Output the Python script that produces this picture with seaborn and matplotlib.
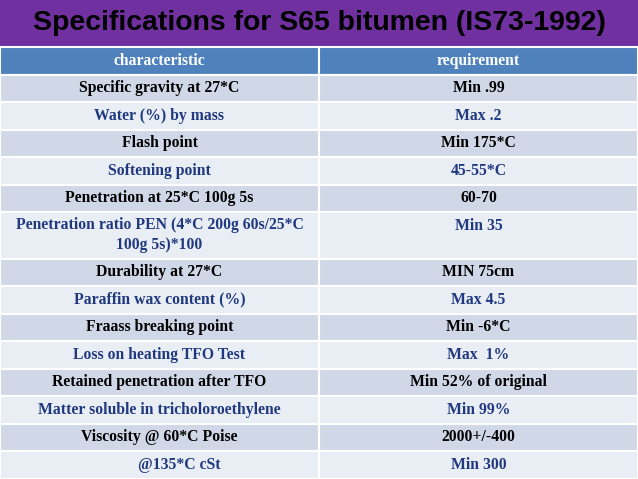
import matplotlib.pyplot as plt
import seaborn as sns
from matplotlib.patches import Rectangle

sns.set_theme(style="white")

TITLE = "Specifications for S65 bitumen (IS73-1992)"
HEADERS = ["characteristic", "requirement"]
characteristics = [
    "Specific gravity at 27*C",
    "Water (%) by mass",
    "Flash point",
    "Softening point",
    "Penetration at 25*C 100g 5s",
    "Penetration ratio PEN (4*C 200g 60s/25*C\n100g 5s)*100",
    "Durability at 27*C",
    "Paraffin wax content (%)",
    "Fraass breaking point",
    "Loss on heating TFO Test",
    "Retained penetration after TFO",
    "Matter soluble in tricholoroethylene",
    "Viscosity @ 60*C Poise",
    "          @135*C cSt",
]
requirements = [
    "Min .99", "Max .2", "Min 175*C", "45-55*C", "60-70", "Min 35",
    "MIN 75cm", "Max 4.5", "Min -6*C", "Max  1%", "Min 52% of original",
    "Min 99%", "2000+/-400", "Min 300",
]
row_heights = [1, 1, 1, 1, 1, 1.7, 1, 1, 1, 1, 1, 1, 1, 1]

W, H = 638, 479
fig = plt.figure(figsize=(W / 100, H / 100), dpi=100)
fig.patch.set_facecolor("#7030a0")
ax = fig.add_axes([0, 0, 1, 1])
ax.set_xlim(0, W)
ax.set_ylim(H, 0)
ax.axis("off")

ax.text(W / 2, 23, TITLE, ha="center", va="center", fontsize=20.4,
        fontweight="bold", color="black", family="Liberation Sans")

top, hdr_h, split = 47, 27.5, 319
unit = (H - top - hdr_h) / sum(row_heights)
serif = "Liberation Serif"
FS = 11.3

for x0, x1, label in [(0, split, HEADERS[0]), (split, W, HEADERS[1])]:
    ax.add_patch(Rectangle((x0, top), x1 - x0, hdr_h, facecolor="#4f81bd",
                           edgecolor="white", lw=1.5))
    ax.text((x0 + x1) / 2, top + hdr_h / 2, label, ha="center", va="center",
            color="white", fontsize=FS, fontweight="bold", family=serif)

y = top + hdr_h
for i, (c, r, h) in enumerate(zip(characteristics, requirements, row_heights)):
    hh = h * unit
    fc = "#d0d8e8" if i % 2 == 0 else "#e9edf4"
    tc = "black" if i % 2 == 0 else "#1f3880"
    for x0, x1 in [(0, split), (split, W)]:
        ax.add_patch(Rectangle((x0, y), x1 - x0, hh, facecolor=fc,
                               edgecolor="white", lw=1.5))
    ty = y + 13.5
    ax.text(split / 2, ty if h == 1 else y + 23, c, ha="center", va="center",
            color=tc, fontsize=FS, fontweight="bold", family=serif,
            linespacing=1.3)
    ax.text((split + W) / 2, ty, r, ha="center", va="center",
            color=tc, fontsize=FS, fontweight="bold", family=serif)
    y += hh

fig.savefig("out.png", dpi=100, facecolor=fig.get_facecolor())
